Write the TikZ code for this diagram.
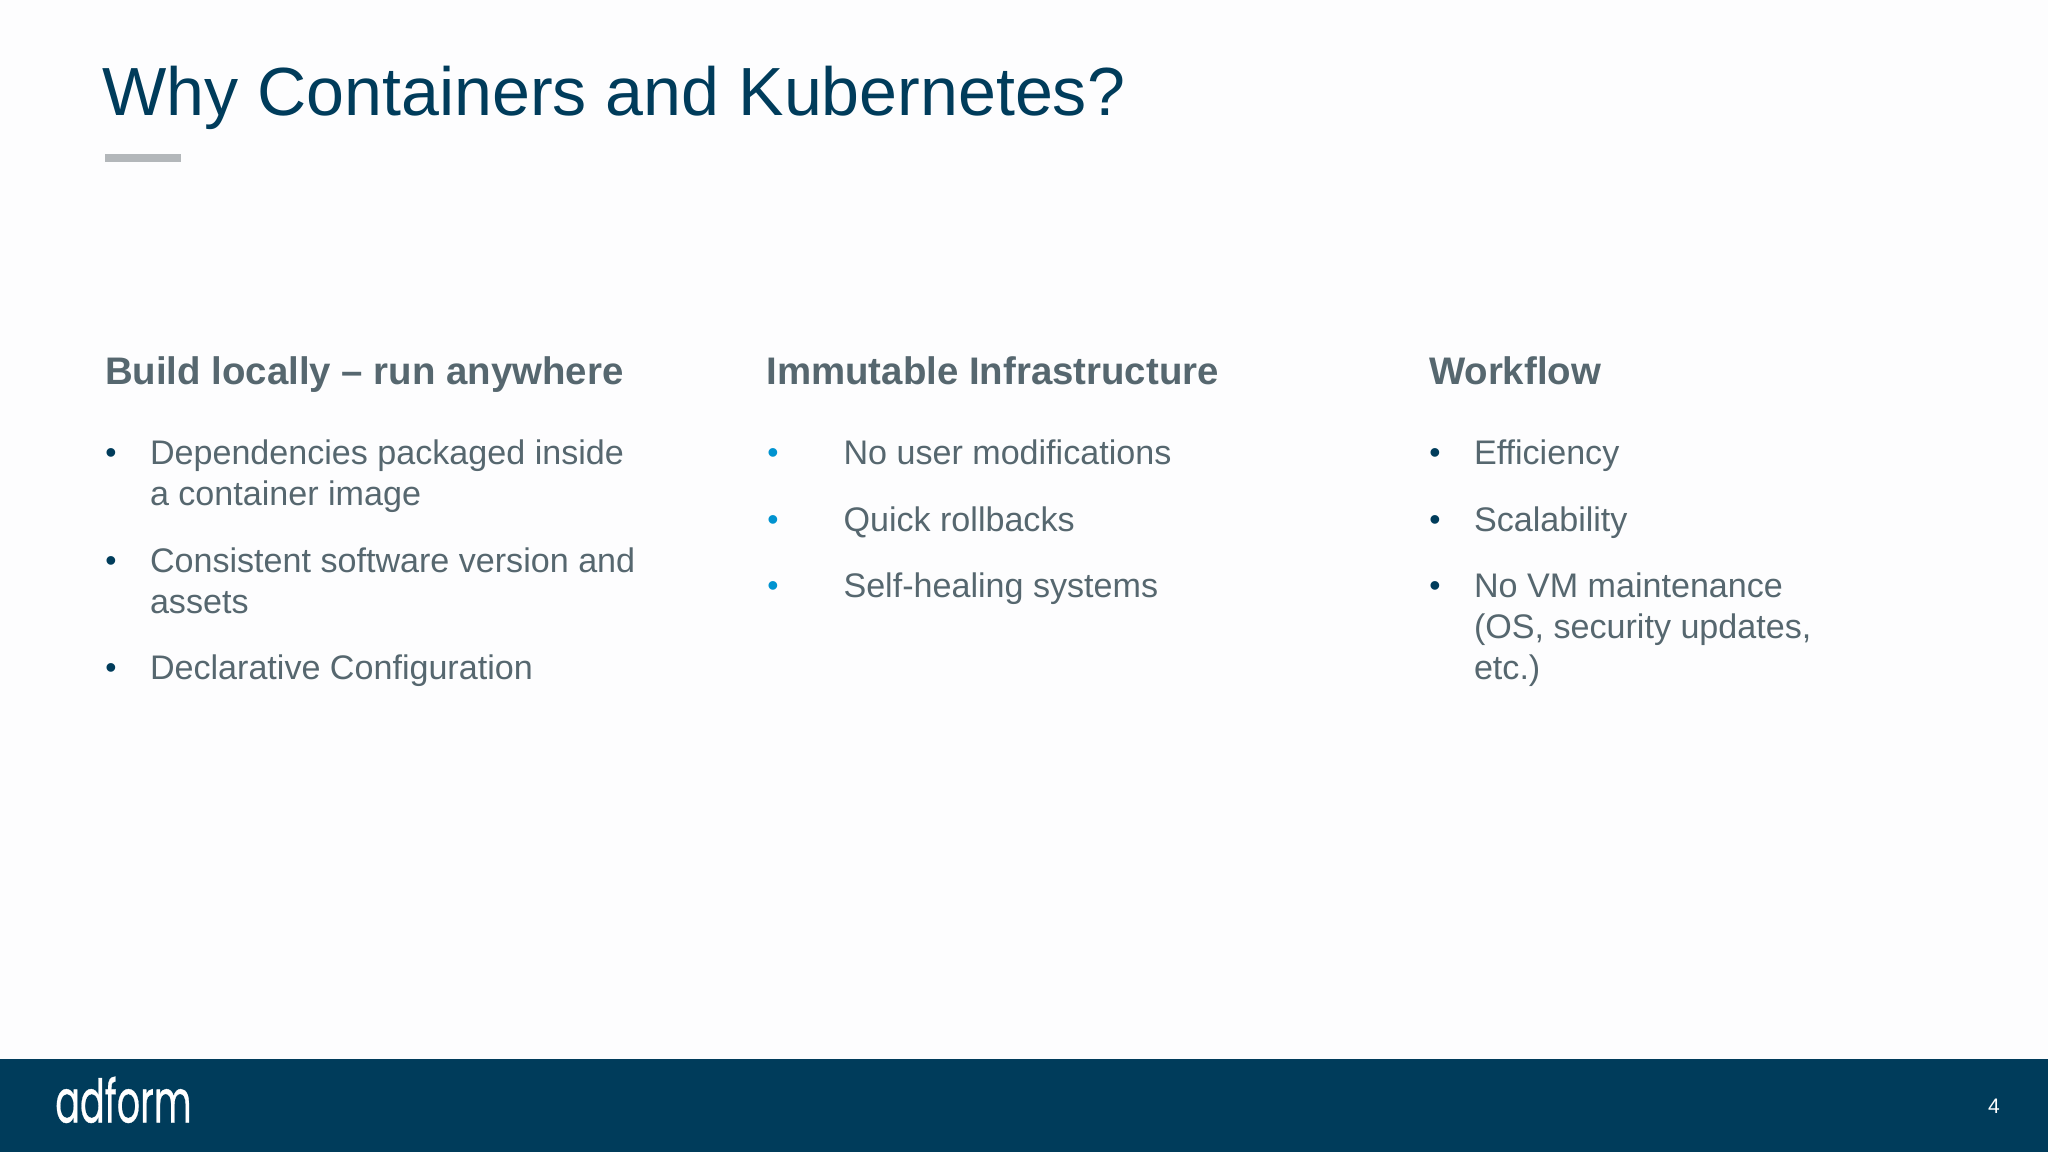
\documentclass[tikz,border=0pt]{standalone}
\usepackage{fontspec}
\setmainfont{Liberation Sans}
\newfontfamily\logofont[FakeBold=0.6]{Poppins}
\definecolor{navy}{HTML}{003C5B}
\definecolor{slate}{HTML}{56676F}
\definecolor{barg}{HTML}{B3B7BA}
\definecolor{skyb}{HTML}{0093D0}
\definecolor{paper}{HTML}{FDFDFE}
\tikzset{
  txt/.style={anchor=base west,inner sep=0pt,outer sep=0pt,text=slate,font=\fontsize{17.05}{20}\selectfont},
  head/.style={anchor=base west,inner sep=0pt,outer sep=0pt,text=slate,font=\fontsize{19.2}{23}\selectfont\bfseries},
  bul/.style={anchor=base,inner sep=0pt,outer sep=0pt,text=navy,font=\fontsize{16}{20}\selectfont},
  bulb/.style={bul,text=skyb},
}
\begin{document}
\begin{tikzpicture}[x=0.5pt,y=-0.5pt]
\useasboundingbox (0,0) rectangle (2048,1152);
\fill[paper] (0,0) rectangle (2048,1152);
\fill[navy] (0,1059) rectangle (2048,1152);
\fill[barg] (105,154) rectangle (181,162);
\node[anchor=base west,inner sep=0pt,text=navy,font=\fontsize{34.07}{40}\selectfont] (title) at (102,115) {Why Containers and Kubernetes?};
% column 1
\node[head] (h1) at (105,384) {Build locally – run anywhere};
\node[bul] (b11) at (111,463) {•};
\node[txt] (t11) at (150,464) {Dependencies packaged inside};
\node[txt] (t11b) at (150,505.6) {a container image};
\node[bul] (b12) at (111,571) {•};
\node[txt] (t12) at (150,572) {Consistent software version and};
\node[txt] (t12b) at (150,613) {assets};
\node[bul] (b13) at (111,678.6) {•};
\node[txt] (t13) at (150,679.6) {Declarative Configuration};
% column 2
\node[head] (h2) at (766.5,384) {Immutable Infrastructure};
\node[bulb] (b21) at (773,463) {•};
\node[txt] (t21) at (843.5,464) {No user modifications};
\node[bulb] (b22) at (773,530) {•};
\node[txt] (t22) at (843.5,531) {Quick rollbacks};
\node[bulb] (b23) at (773,596.6) {•};
\node[txt] (t23) at (843.5,597.6) {Self-healing systems};
% column 3
\node[head] (h3) at (1429,384) {Workflow};
\node[bul] (b31) at (1435,463) {•};
\node[txt] (t31) at (1474,464) {Efficiency};
\node[bul] (b32) at (1435,530) {•};
\node[txt] (t32) at (1474,531) {Scalability};
\node[bul] (b33) at (1435,596.6) {•};
\node[txt] (t33) at (1474,597.6) {No VM maintenance};
\node[txt] (t33b) at (1474,638.2) {(OS, security updates,};
\node[txt] (t33c) at (1474,679.6) {etc.)};
% footer
\node[anchor=base west,inner sep=0pt,text=white,xscale=0.61,font=\logofont\fontsize{30}{30}\selectfont] (logo) at (55,1122.5) {adform};
\node[anchor=base,inner sep=0pt,text=white,font=\fontsize{10.5}{11}\selectfont] (page) at (1994,1113) {4};
\end{tikzpicture}
\end{document}
